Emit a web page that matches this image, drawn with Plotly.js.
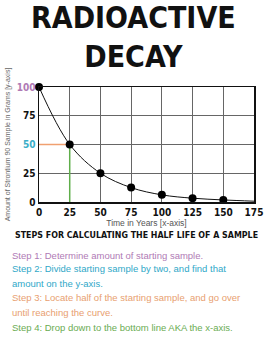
<!DOCTYPE html>
<html><head><meta charset="utf-8">
<script src="https://cdn.plot.ly/plotly-3.0.1.min.js"></script>
<style>html,body{margin:0;padding:0;background:#fff}#c{width:270px;height:350px}</style>
</head><body><div id="c"></div>
<script>
// Data
const markerYears = [0, 25, 50, 75, 100, 125, 150];
const markerAmounts = [100, 50, 25, 12.5, 6.2, 3.3, 1.8];
const curveYears = [0, 25, 50, 75, 100, 125, 150, 175];
const curveAmounts = [100, 50, 25, 12.5, 6.2, 3.3, 1.8, 0.7];
const xTicks = [0, 25, 50, 75, 100, 125, 150, 175];
const yTicks = [0, 25, 50, 75, 100];
const yTickText = ['0', '25', '<span style="color:#3aaec8">50</span>', '75', '<span style="color:#b07ab5">100</span>'];
const halfAmount = [50, 50];
const halfStartX = [0, 25];
const dropX = [25, 25];
const dropY = [50, 0];
const titleLines = ['RADIOACTIVE', 'DECAY'];
const heading = 'STEPS FOR CALCULATING THE HALF LIFE OF A SAMPLE';
const steps = [
  'Step 1: Determine amount of starting sample.',
  'Step 2: Divide starting sample by two, and find that',
  'amount on the y-axis.',
  'Step 3: Locate half of the starting sample, and go over',
  'until reaching the curve.',
  'Step 4: Drop down to the bottom line AKA the x-axis.'
];
const stepColors = ['#b07ab5', '#2fa8c8', '#2fa8c8', '#e8a070', '#e8a070', '#6aac52'];

const W = 270, H = 350, M = {l: 39, r: 16, t: 87, b: 148};
const pw = W - M.l - M.r, ph = H - M.t - M.b;
const px = x => (x - M.l) / pw;
const py = y => 1 - (y - M.t) / ph;

const stepY = [255, 268.5, 283, 297.5, 312, 327];
const annotations = [];
annotations.push({text: titleLines.join('<br>'), x: px(133), y: py(37), xref: 'paper', yref: 'paper', showarrow: false,
  xanchor: 'center', yanchor: 'middle', align: 'center',
  font: {family: 'DejaVu Sans Condensed', size: 30, color: '#111', weight: 'bold'}});
annotations.push({text: heading, x: px(136), y: py(235), xref: 'paper', yref: 'paper', showarrow: false, xanchor: 'center', yanchor: 'middle',
  font: {family: 'DejaVu Sans Condensed', size: 8.8, color: '#111', weight: 'bold'}});
steps.forEach((s, i) => annotations.push({text: s, x: px(10), y: py(stepY[i]), xref: 'paper', yref: 'paper', showarrow: false,
  xanchor: 'left', yanchor: 'middle', font: {family: 'Liberation Sans', size: 9.5, color: stepColors[i]}}));

const data = [
  {x: halfStartX, y: halfAmount, mode: 'lines', line: {color: '#f0a070', width: 1.5}, hoverinfo: 'skip'},
  {x: dropX, y: dropY, mode: 'lines', line: {color: '#5fae4a', width: 1.5}, hoverinfo: 'skip'},
  {x: curveYears, y: curveAmounts, mode: 'lines', line: {color: '#111', width: 1, shape: 'spline', smoothing: 1}, hoverinfo: 'skip'},
  {x: markerYears, y: markerAmounts, mode: 'markers', marker: {color: '#000', size: 8}, cliponaxis: false}
];

const layout = {
  width: W, height: H, margin: M, showlegend: false,
  paper_bgcolor: '#fff', plot_bgcolor: '#fff',
  xaxis: {range: [0, 175], tickvals: xTicks, showgrid: true, gridcolor: '#666', gridwidth: 1,
    showline: true, linecolor: '#111', linewidth: 1.5, mirror: true, zeroline: false, ticks: '', ticklen: 0,
    tickfont: {family: 'DejaVu Sans Condensed', size: 10, color: '#111', weight: 'bold'},
    title: {text: 'Time in Years [x-axis]', standoff: 3, font: {family: 'Liberation Sans', size: 8.5, color: '#555'}}},
  yaxis: {range: [0, 100], tickvals: yTicks, ticktext: yTickText, showgrid: true, gridcolor: '#666', gridwidth: 1,
    showline: true, linecolor: '#111', linewidth: 1.5, mirror: true, zeroline: false, ticks: '', ticklen: 0,
    tickfont: {family: 'DejaVu Sans Condensed', size: 10, color: '#111', weight: 'bold'},
    title: {text: 'Amount of Strontium 90 Sample in Grams [y-axis]', standoff: 5, font: {family: 'Liberation Sans', size: 7, color: '#666'}}},
  annotations: annotations
};
Plotly.newPlot('c', data, layout, {staticPlot: true, displayModeBar: false});
</script>
</body></html>
